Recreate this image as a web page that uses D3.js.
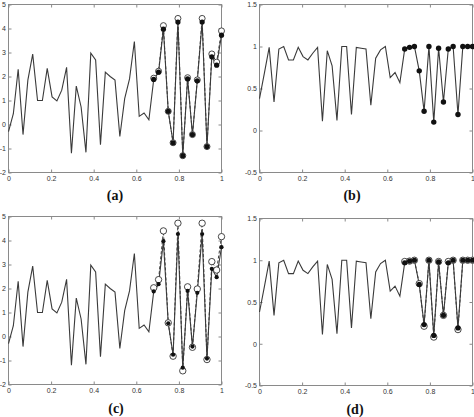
<!DOCTYPE html>
<html><head><meta charset="utf-8">
<script src="https://cdn.jsdelivr.net/npm/d3@7"></script>
<style>body{margin:0;background:#fff}svg{display:block}</style>
</head><body>
<svg id="c" width="474" height="417"></svg>
<script>
// ---- data ----
const nPts = 45;
const xTicks = [0, 0.2, 0.4, 0.6, 0.8, 1];
const xTickLabels = ["0", "0.2", "0.4", "0.6", "0.8", "1"];
const yTicksAC = [-2, -1, 0, 1, 2, 3, 4, 5];
const yTicksBD = [-0.5, 0, 0.5, 1, 1.5];
const yTickLabelsBD = ["-0.5", "0", "0.5", "1", "1.5"];
const predStart = 30;
const actualAC = [-0.3, 0.45, 2.3, -0.42, 1.85, 2.93, 1.0, 1.0, 2.34, 1.15, 0.98, 1.43, 2.38, -1.2, 1.6, 0.73, -1.16, 2.97, 2.69, -0.84, 2.18, 2.0, 1.85, -0.5, 1.08, 1.9, 3.46, 0.34, 0.48, 0.2, 1.88, 2.18, 3.97, 0.55, -0.76, 4.27, -1.3, 1.9, -0.42, 1.82, 4.27, -0.92, 2.82, 2.47, 3.72];
const predA = [1.93, 2.22, 4.12, 0.55, -0.76, 4.42, -1.3, 1.95, -0.42, 1.86, 4.42, -0.92, 2.94, 2.6, 3.9];
const predC = [2.03, 2.37, 4.4, 0.57, -0.82, 4.72, -1.43, 2.07, -0.45, 1.98, 4.72, -0.96, 3.12, 2.77, 4.16];
const actualBD = [0.38, 0.68, 0.99, 0.34, 0.97, 1.0, 0.84, 0.84, 0.99, 0.88, 0.84, 0.92, 0.99, 0.11, 0.95, 0.77, 0.12, 1.0, 1.0, 0.19, 0.99, 0.98, 0.97, 0.3, 0.86, 0.96, 1.0, 0.63, 0.69, 0.57, 0.97, 0.99, 1.0, 0.71, 0.23, 1.0, 0.1, 0.98, 0.34, 0.97, 1.0, 0.19, 1.0, 1.0, 1.0];
const predB = null;
const predD = [0.985, 0.99, 1.0, 0.72, 0.21, 1.0, 0.08, 0.985, 0.34, 0.985, 1.0, 0.17, 1.0, 1.0, 1.0];
const panelLabels = ["(a)", "(b)", "(c)", "(d)"];

const panels = [
  {box:[8.5, 221.5, 4.5, 172.5], yDom:[-2,5], yt:yTicksAC, ytl:yTicksAC.map(String), actual:actualAC, pred:predA, rc:3.0, rd:2.6, label:panelLabels[0], lx:115, ly:200},
  {box:[259.5, 472.5, 4.5, 172.5], yDom:[-0.5,1.5], yt:yTicksBD, ytl:yTickLabelsBD, actual:actualBD, pred:predB, rc:3.2, rd:2.7, label:panelLabels[1], lx:352, ly:200},
  {box:[8.5, 221.5, 216.5, 384.5], yDom:[-2,5], yt:yTicksAC, ytl:yTicksAC.map(String), actual:actualAC, pred:predC, rc:3.2, rd:2.1, label:panelLabels[2], lx:116, ly:413},
  {box:[259.5, 472.5, 218.5, 385.5], yDom:[-0.5,1.5], yt:yTicksBD, ytl:yTickLabelsBD, actual:actualBD, pred:predD, rc:3.2, rd:2.6, label:panelLabels[3], lx:355, ly:414}
];

const svg = d3.select("#c");
const axisCol = "#8a8a8a";
const lineCol = "#3a3a3a";

panels.forEach(p => {
  const [x0, x1, y0, y1] = p.box;
  const x = d3.scaleLinear().domain([0, 1]).range([x0, x1]);
  const y = d3.scaleLinear().domain(p.yDom).range([y1, y0]);
  const g = svg.append("g");
  const idx = d3.range(nPts);
  const xv = i => i / (nPts - 1);

  g.append("rect").attr("x", x0).attr("y", y0).attr("width", x1 - x0).attr("height", y1 - y0)
    .attr("fill", "none").attr("stroke", axisCol).attr("stroke-width", 1);

  const xb = d3.axisBottom(x).tickValues(xTicks).tickFormat((d, i) => xTickLabels[i]).tickSize(-3).tickPadding(4);
  const xt = d3.axisTop(x).tickValues(xTicks).tickFormat("").tickSize(-3);
  const yl = d3.axisLeft(y).tickValues(p.yt).tickFormat((d, i) => p.ytl[i]).tickSize(-3).tickPadding(2.5);
  const yr = d3.axisRight(y).tickValues(p.yt).tickFormat("").tickSize(-3);
  [[xb, `translate(0,${y1})`], [xt, `translate(0,${y0})`], [yl, `translate(${x0},0)`], [yr, `translate(${x1},0)`]].forEach(([ax, tr]) => {
    const a = g.append("g").attr("transform", tr).call(ax);
    a.select(".domain").remove();
    a.selectAll("line").attr("stroke", axisCol);
    a.selectAll("text").attr("font-family", "'Liberation Sans', Arial, sans-serif").attr("font-size", 7).attr("fill", "#333");
  });

  g.append("path").datum(idx)
    .attr("d", d3.line().x(i => x(xv(i))).y(i => y(p.actual[i])))
    .attr("fill", "none").attr("stroke", lineCol).attr("stroke-width", 1.1);

  const pIdx = d3.range(predStart, nPts);
  if (p.pred) {
    g.append("path").datum(pIdx)
      .attr("d", d3.line().x(i => x(xv(i))).y(i => y(p.pred[i - predStart])))
      .attr("fill", "none").attr("stroke", lineCol).attr("stroke-width", 1).attr("stroke-dasharray", "3,2");
    g.selectAll(".oc").data(pIdx).enter().append("circle")
      .attr("cx", i => x(xv(i))).attr("cy", i => y(p.pred[i - predStart])).attr("r", p.rc)
      .attr("fill", "#fff").attr("stroke", "#333").attr("stroke-width", 0.9);
  }
  g.selectAll(".fd").data(pIdx).enter().append("circle")
    .attr("cx", i => x(xv(i))).attr("cy", i => y(p.actual[i])).attr("r", p.rd)
    .attr("fill", "#111");

  svg.append("text").attr("x", p.lx).attr("y", p.ly).attr("text-anchor", "middle")
    .attr("font-family", "'Liberation Serif', 'Times New Roman', serif").attr("font-weight", "bold").attr("font-size", 14)
    .attr("fill", "#111").text(p.label);
});
</script>
</body></html>
